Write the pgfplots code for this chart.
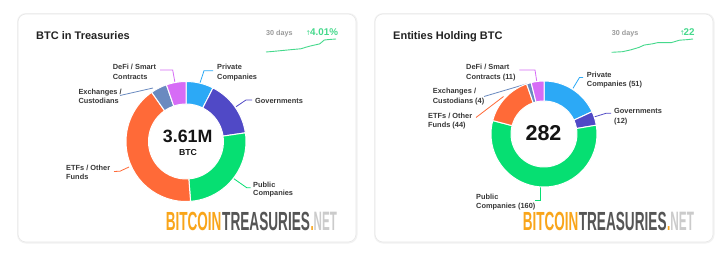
\documentclass[border=0pt]{standalone}
\usepackage{pgfplots}
\pgfplotsset{compat=1.18}
\usepackage{pgfplotstable}
\usepackage{graphicx}
\usepackage{fontspec}
\setmainfont{Liberation Sans}
\newfontfamily\symfont{DejaVu Sans}

\definecolor{cPriv}{HTML}{2CA9F6}
\definecolor{cGov}{HTML}{5049C6}
\definecolor{cPub}{HTML}{06DF72}
\definecolor{cETF}{HTML}{FF6A38}
\definecolor{cExch}{HTML}{6A8AC0}
\definecolor{cDeFi}{HTML}{D66CF6}
\definecolor{cTitle}{HTML}{222222}
\definecolor{cLab}{HTML}{383838}
\definecolor{cGray}{HTML}{9A9A9A}
\definecolor{cSpark}{HTML}{45D98C}
\definecolor{cGold}{HTML}{F9A51A}
\definecolor{cTreas}{HTML}{555555}
\definecolor{cNet}{HTML}{CBCBCB}

% BTC held, millions
\pgfplotstableread[col sep=comma]{
segment,value,color
Private Companies,0.267,cPriv
Governments,0.552,cGov
Public Companies,0.942,cPub
ETFs / Other Funds,1.498,cETF
Exchanges / Custodians,0.159,cExch
DeFi / Smart Contracts,0.191,cDeFi
}\btctable

% number of entities
\pgfplotstableread[col sep=comma]{
segment,value,color
Private Companies,51,cPriv
Governments,12,cGov
Public Companies,160,cPub
ETFs / Other Funds,44,cETF
Exchanges / Custodians,4,cExch
DeFi / Smart Contracts,11,cDeFi
}\enttable

% 30-day change of BTC in treasuries (%)
\pgfplotstableread{
day pct
0 0.00
3 0.18
7 0.46
11 0.74
15 1.00
17 1.45
19 1.85
23 2.50
25 3.70
27 3.85
30 4.01
}\btcspark

% 30-day number of entities
\pgfplotstableread{
day count
0 260
4 261
7 264
10 268
12 272
15 274
17 276
22 276
25 280
28 281
30 282
}\entspark

\newcommand\piesetup[2]{%
  \pgfplotstablegetrowsof{#1}%
  \pgfmathtruncatemacro\pienrows{\pgfplotsretval-1}%
  \xdef\pietot{0}%
  \foreach \i in {0,...,\pienrows}{%
    \pgfplotstablegetelem{\i}{value}\of{#1}%
    \pgfmathsetmacro\tmp{\pietot+\pgfplotsretval}%
    \xdef\pietot{\tmp}}%
  \xdef\piecum{0}%
  \foreach \i in {0,...,\pienrows}{%
    \pgfmathsetmacro\tmpS{90-360*(\piecum/\pietot)}%
    \pgfplotstablegetelem{\i}{value}\of{#1}%
    \pgfmathsetmacro\tmp{\piecum+\pgfplotsretval}%
    \xdef\piecum{\tmp}%
    \pgfmathsetmacro\tmpE{90-360*(\piecum/\pietot)}%
    \pgfplotstablegetelem{\i}{color}\of{#1}%
    \expandafter\xdef\csname #2S\i\endcsname{\tmpS}%
    \expandafter\xdef\csname #2E\i\endcsname{\tmpE}%
    \expandafter\xdef\csname #2C\i\endcsname{\pgfplotsretval}%
  }}

\newcommand\drawdonut[3]{%
  \pgfmathsetmacro\dd{#3-#2}%
  \pgfplotsinvokeforeach{0,...,5}{%
    \edef\temp{\noexpand\filldraw[fill=\csname #1C##1\endcsname,draw=white,line width=1pt,line join=round]
      (axis cs:0,0) ++(\csname #1S##1\endcsname:#2pt)
      arc[start angle=\csname #1S##1\endcsname,end angle=\csname #1E##1\endcsname,radius=#2pt]
      -- ++(\csname #1E##1\endcsname:\dd pt)
      arc[start angle=\csname #1E##1\endcsname,end angle=\csname #1S##1\endcsname,radius=#3pt]
      -- cycle;}%
    \temp}}

\pgfplotsset{
  donut/.style={hide axis, x=1pt, y=1pt, xmin=-70, xmax=70, ymin=-70, ymax=70, clip=false, anchor=center},
  spark/.style={hide axis, scale only axis, clip=false, anchor=south west, xmin=0, xmax=30},
}

\tikzset{
  lab/.style={anchor=base west, inner sep=0pt, text=cLab, font=\fontsize{7.4}{9}\selectfont\bfseries},
  ttl/.style={anchor=base west, inner sep=0pt, text=cTitle, font=\fontsize{11}{13}\selectfont\bfseries},
  dys/.style={anchor=base west, inner sep=0pt, text=cGray, font=\fontsize{7.2}{9}\selectfont\bfseries},
  chg/.style={anchor=base west, inner sep=0pt, text=cSpark, font=\fontsize{9.8}{12}\selectfont\bfseries},
  arr/.style={anchor=base west, inner sep=0pt, text=cSpark, font=\fontsize{6.5}{8}\selectfont\symfont},
  logo/.style={anchor=base west, inner sep=0pt, font=\bfseries},
  ld/.style={line width=0.8pt},
}

\begin{document}
\begin{tikzpicture}
\piesetup{\btctable}{btc}%
\piesetup{\enttable}{ent}%
\begin{scope}[x=1pt,y=1pt]
  \fill[white] (0,0) rectangle (720,258);
  % cards
  \fill[black!5, rounded corners=9] (17,{258-243.5}) rectangle (357.5,{258-13});
  \filldraw[fill=white, draw=black!9, line width=0.6pt, rounded corners=8] (18,{258-242}) rectangle (356,{258-14});
  \fill[black!5, rounded corners=9] (374,{258-243.5}) rectangle (714.5,{258-13});
  \filldraw[fill=white, draw=black!9, line width=0.6pt, rounded corners=8] (375,{258-242}) rectangle (713,{258-14});

  % titles
  \node[ttl] at (36,{258-39}) {BTC in Treasuries};
  \node[ttl] at (393,{258-39}) {Entities Holding BTC};

  % sparkline texts
  \node[dys] at (266,{258-35}) {30 days};
  \node[arr] at (305.5,{258-35.5}) {↑};
  \node[chg] at (310,{258-35.7}) {4.01\%};
  \node[dys] at (611.7,{258-35}) {30 days};
  \node[arr] at (679.5,{258-35.5}) {↑};
  \node[chg] at (683.5,{258-35.7}) {22};

  % centre texts
  \node[anchor=base, inner sep=0pt, text=black!92, font=\fontsize{17.8}{20}\selectfont\bfseries] at (187.7,{258-142.7}) {3.61M};
  \node[anchor=base, inner sep=0pt, text=black!92, font=\fontsize{8.7}{10}\selectfont\bfseries] at (188,{258-155}) {BTC};
  \node[anchor=base, inner sep=0pt, text=black!92, font=\fontsize{21.5}{24}\selectfont\bfseries] at (543.5,{258-140}) {282};

  % left labels
  \node[lab] at (112.7,{258-69.7}) {DeFi / Smart};
  \node[lab] at (112.7,{258-79}) {Contracts};
  \node[lab] at (78.3,{258-94}) {Exchanges /};
  \node[lab] at (78.3,{258-103}) {Custodians};
  \node[lab] at (217,{258-69.7}) {Private};
  \node[lab] at (217,{258-79}) {Companies};
  \node[lab] at (255,{258-103}) {Governments};
  \node[lab] at (253,{258-187}) {Public};
  \node[lab] at (253,{258-195.7}) {Companies};
  \node[lab] at (66,{258-170.3}) {ETFs / Other};
  \node[lab] at (66,{258-179.7}) {Funds};

  % left leaders
  \draw[ld, cDeFi] (160,{258-70}) -- (172.7,{258-70}) -- (175,{258-82.7});
  \draw[ld, cExch] (120,{258-95.5}) -- (153,{258-88});
  \draw[ld, cPriv] (200,{258-83}) -- (204,{258-70.7}) -- (213,{258-70.7});
  \draw[ld, cGov] (236,{258-106.7}) -- (246,{258-100}) -- (252,{258-100});
  \draw[ld, cPub] (233.3,{258-178.3}) -- (246.7,{258-187.7}) -- (250.7,{258-187.7});
  \draw[ld, cETF] (114,{258-171.5}) -- (120,{258-171.2}) -- (129,{258-167});

  % right labels
  \node[lab] at (466,{258-69.7}) {DeFi / Smart};
  \node[lab] at (466,{258-79}) {Contracts (11)};
  \node[lab] at (432.7,{258-93.7}) {Exchanges /};
  \node[lab] at (432.7,{258-103}) {Custodians (4)};
  \node[lab] at (428,{258-118}) {ETFs / Other};
  \node[lab] at (428,{258-127.3}) {Funds (44)};
  \node[lab] at (586.7,{258-77}) {Private};
  \node[lab] at (586.7,{258-86.3}) {Companies (51)};
  \node[lab] at (614,{258-113.7}) {Governments};
  \node[lab] at (614,{258-123}) {(12)};
  \node[lab] at (476,{258-199.7}) {Public};
  \node[lab] at (476,{258-208.7}) {Companies (160)};

  % right leaders
  \draw[ld, cDeFi] (519.3,{258-70}) -- (535,{258-70}) -- (536.7,{258-81});
  \draw[ld, cExch] (484,{258-96.5}) -- (528,{258-83.5});
  \draw[ld, cETF] (476,{258-117.5}) -- (503.5,{258-96.5});
  \draw[ld, cPriv] (573,{258-88.3}) -- (579.5,{258-77.5}) -- (583,{258-77.5});
  \draw[ld, cGov] (594,{258-117}) -- (606,{258-113.3}) -- (611,{258-113.3});
  \draw[ld, cPub] (540,{258-186.7}) -- (540,{258-200}) -- (535,{258-200});

  % logos
  \node[logo, text=cGold] at (165.7,28) {\resizebox{55.6pt}{18.3pt}{BITCOIN}};
  \node[logo, text=cTreas] at (222,28) {\resizebox{87.8pt}{18.3pt}{TREASURIES}};
  \node[logo, text=cNet] at (310.3,28) {\resizebox{26.4pt}{18.3pt}{\textcolor{cGold}{.}NET}};
  \node[logo, text=cGold] at (522.7,28) {\resizebox{55.4pt}{18.3pt}{BITCOIN}};
  \node[logo, text=cTreas] at (578.6,28) {\resizebox{87.8pt}{18.3pt}{TREASURIES}};
  \node[logo, text=cNet] at (667,28) {\resizebox{26.8pt}{18.3pt}{\textcolor{cGold}{.}NET}};
\end{scope}

% donuts
\begin{axis}[donut, at={(186pt,116.5pt)}]
  \drawdonut{btc}{60}{37.5}
\end{axis}
\begin{axis}[donut, at={(544pt,124pt)}]
  \drawdonut{ent}{53}{33}
\end{axis}

% sparklines
\begin{axis}[spark, at={(266pt,206pt)}, width=70pt, height=13pt, ymin=0, ymax=4.01]
  \addplot[cSpark, line width=0.9pt, no marks] table[x=day, y=pct] {\btcspark};
\end{axis}
\begin{axis}[spark, at={(611.7pt,205.7pt)}, width=81.3pt, height=13.3pt, ymin=260, ymax=282]
  \addplot[cSpark, line width=0.9pt, no marks] table[x=day, y=count] {\entspark};
\end{axis}

\pgfresetboundingbox
\path[use as bounding box] (0pt,0pt) rectangle (720pt,258pt);
\end{tikzpicture}
\end{document}
